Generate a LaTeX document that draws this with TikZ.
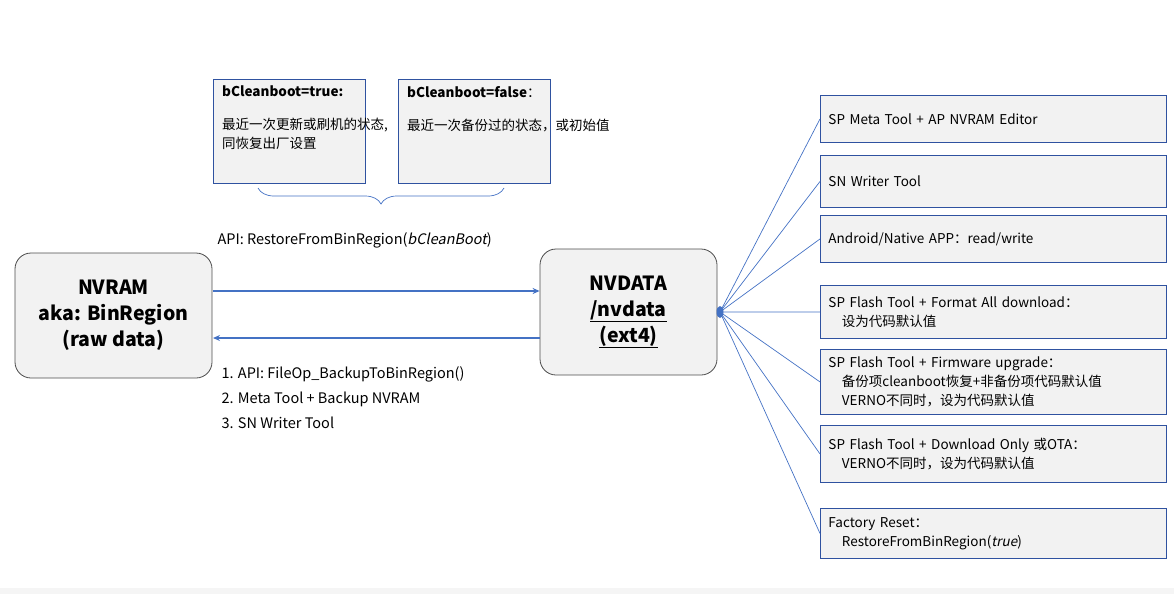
\documentclass[tikz,border=0pt]{standalone}
\usepackage{fontspec}
\setmainfont{Noto Sans CJK SC}[ItalicFont=Noto Sans CJK SC,ItalicFeatures={FakeSlant=0.2}]
\usetikzlibrary{decorations.pathreplacing,arrows.meta}
\definecolor{bl}{HTML}{2F52A0}
\definecolor{ln}{HTML}{4472C4}
\definecolor{fl}{HTML}{F2F2F2}
\begin{document}
\begin{tikzpicture}[x=1pt,y=-1pt,
  rbox/.style={draw=bl,fill=fl,line width=0.9pt,minimum width=341pt,anchor=north west,align=left,text width=330pt,inner xsep=8pt,font=\fontsize{13.5}{19}\selectfont},
  tbox/.style={draw=bl,fill=fl,line width=0.9pt,minimum width=152pt,minimum height=104pt,anchor=north west},
  ttext/.style={anchor=north west,align=left,text width=142pt,inner sep=0pt,font=\fontsize{13.5}{19}\selectfont},
  big/.style={draw=black!70,fill=fl,rounded corners=16pt,line width=0.8pt,align=center,font=\fontsize{19.5}{26}\selectfont\bfseries},
  conn/.style={ln,line width=0.7pt},
  arr/.style={ln,line width=1.8pt,-{Stealth[length=7pt,width=6pt]}},
  lab/.style={anchor=west,font=\fontsize{14.5}{18}\selectfont}]
\useasboundingbox (0,0) rectangle (1174,594);
\fill[black!4] (0,588) rectangle (1174,594);
\node[big,minimum width=197pt,minimum height=125pt] (nv) at (113.5,315.5) {NVRAM\\aka: BinRegion\\(raw data)};
\node[big,minimum width=177pt,minimum height=126pt] (nd) at (628.5,312) {NVDATA\\\underline{/nvdata}\\\underline{(ext4)}};
\draw[arr] (213,291) -- (nd.west|-0,291);
\draw[arr] (nd.west|-0,338) -- (213,338);
\node[tbox] (t1) at (213,79) {};
\node[tbox] (t2) at (398,79) {};
\node[ttext] (t1t) at (222,86) {\textbf{bCleanboot=true:}\\[14pt]最近一次更新或刷机的状态,\\同恢复出厂设置};
\node[ttext] (t2t) at (407,86) {\textbf{bCleanboot=false}：\\[14pt]最近一次备份过的状态，或初始值};
\draw[ln,line width=0.7pt,decorate,decoration={brace,mirror,amplitude=16pt}] (258,188) -- (504,188);
\node[lab] (api) at (214,240) {API: RestoreFromBinRegion(\emph{bCleanBoot})};
\node[lab,align=left,anchor=north west,font=\fontsize{14.5}{25}\selectfont] (lst) at (218,363) {1. API: FileOp\_BackupToBinRegion()\\2. Meta Tool + Backup NVRAM\\3. SN Writer Tool};
\node[rbox,minimum height=47pt] (r1) at (820,95) {SP Meta Tool + AP NVRAM Editor};
\node[rbox,minimum height=52pt] (r2) at (820,155) {SN Writer Tool};
\node[rbox,minimum height=47pt] (r3) at (820,215) {Android/Native APP：read/write};
\node[rbox,minimum height=53pt] (r4) at (820,285) {SP Flash Tool + Format All download：\\\quad 设为代码默认值};
\node[rbox,minimum height=65pt] (r5) at (820,349) {SP Flash Tool + Firmware upgrade：\\\quad 备份项cleanboot恢复+非备份项代码默认值\\\quad VERNO不同时，设为代码默认值};
\node[rbox,minimum height=57pt] (r6) at (820,425) {SP Flash Tool + Download Only 或OTA：\\\quad VERNO不同时，设为代码默认值};
\node[rbox,minimum height=50pt] (r7) at (820,508) {Factory Reset：\\\quad RestoreFromBinRegion(\emph{true})};
\coordinate (hub) at (720,312);
\fill[ln] (hub) ellipse (3.5pt and 6pt);
\foreach \r in {r1,r2,r3,r4,r5,r6,r7} \draw[conn] (hub) -- (\r.west);
\end{tikzpicture}
\end{document}
